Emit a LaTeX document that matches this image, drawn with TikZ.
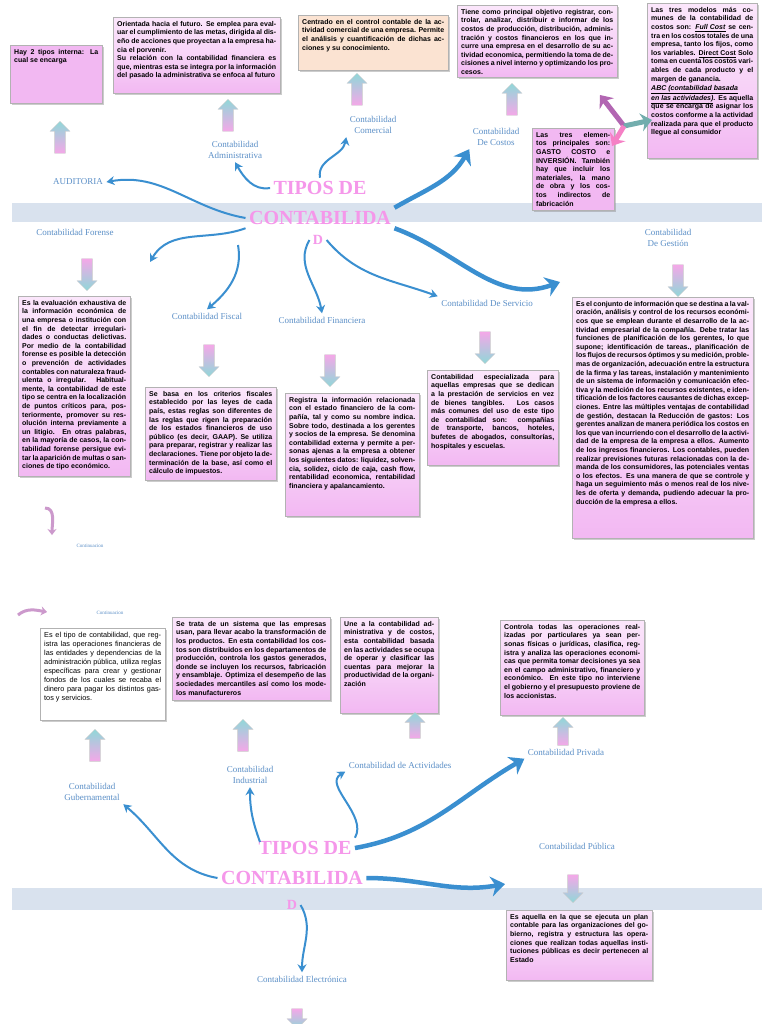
\documentclass[tikz,border=0pt]{standalone}
\usepackage{fontspec}
\setmainfont{Liberation Serif}
\newfontfamily\boxff{Liberation Sans}
\usetikzlibrary{shapes.arrows,shadows,arrows.meta}
\definecolor{lblue}{HTML}{5B8FC7}
\definecolor{abl}{HTML}{3A8FD0}
\definecolor{band}{HTML}{D9E2EE}
\definecolor{pk}{HTML}{F2B8F2}
\definecolor{pkl}{HTML}{FBE6FB}
\definecolor{peach}{HTML}{FBE3D2}
\definecolor{tl}{HTML}{8FD8D8}
\definecolor{tpink}{HTML}{F4A8E8}
\newcommand\bx[3]{\parbox[t][#2pt][t]{#1pt}{#3}}
\tikzset{
 x=1pt,y=-1pt,
 box/.style={anchor=north west, draw=gray!60, top color=pkl, bottom color=pk, middle color=pkl!60!pk, drop shadow={opacity=0.4,shadow xshift=2pt,shadow yshift=-2pt}, inner sep=4pt, font=\boxff\bfseries\fontsize{7}{8.6}\selectfont},
 lbl/.style={font=\fontsize{9}{11}\selectfont, text=lblue, align=center},
 uparr/.style={shape=single arrow, shape border rotate=90, minimum height=32pt, minimum width=20pt, single arrow head extend=3pt, top color=tl, bottom color=tpink, draw=gray!40},
 dnarr/.style={shape=single arrow, shape border rotate=270, minimum height=32pt, minimum width=20pt, single arrow head extend=3pt, top color=tpink, bottom color=tl, draw=gray!40},
 bl/.style={draw=abl, line width=2pt, -{Stealth[length=8pt,width=9pt]}},
 blt/.style={draw=abl, line width=4.5pt, -{Stealth[length=14pt,width=20pt]}},
 ttl/.style={font=\bfseries\fontsize{20}{24}\selectfont, text=tpink!90!magenta},
}
\begin{document}
\begin{tikzpicture}
\useasboundingbox[fill=white] (0,0) rectangle (768,1024);
\fill[band] (12,203) rectangle (762,222);
\fill[band] (12,888) rectangle (762,910);
\node[ttl] (t1) at (320,188) {TIPOS DE};
\node[ttl] (t2) at (320,218) {CONTABILIDA};
\node[ttl,font=\bfseries\fontsize{14}{16}\selectfont] (t3) at (318,240) {D};
\node[ttl] (b1) at (305,848) {TIPOS DE};
\node[ttl] (b2) at (292,878) {CONTABILIDA};
\node[ttl,font=\bfseries\fontsize{14}{16}\selectfont] (b3) at (292,905) {D};

% ---------- top boxes
\node[box,top color=pk,bottom color=pk] (bAud) at (10,45) {\bx{84}{50}{Hay 2 tipos interna: La cual se encarga}};
\node[box] (bAdm) at (113,17) {\bx{159}{68}{Orientada hacia el futuro. Se emplea para evaluar el cumplimiento de las metas, dirigida al diseño de acciones que proyectan a la empresa hacia el porvenir.\\ Su relación con la contabilidad financiera es que, mientras esta se integra por la información del pasado la administrativa se enfoca al futuro}};
\node[box,top color=peach,bottom color=peach,middle color=peach] (bCom) at (298,15) {\bx{142}{47}{Centrado en el control contable de la actividad comercial de una empresa. Permite el análisis y cuantificación de dichas acciones y su conocimiento.}};
\node[box] (bCos) at (457,5) {\bx{152}{64}{Tiene como principal objetivo registrar, controlar, analizar, distribuir e informar de los costos de producción, distribución, administración y costos financieros en los que incurre una empresa en el desarrollo de su actividad economica, permitiendo la toma de decisiones a nivel interno y optimizando los procesos.}};
\node[box] (bAbc) at (647,3) {\bx{102}{147}{Las tres modelos más comunes de la contabilidad de costos son: \underline{\textit{Full Cost}} se centra en los costos totales de una empresa, tanto los fijos, como los variables. \underline{Direct Cost} Solo toma en cuenta los costos variables de cada producto y el margen de ganancia.\\[1pt] \underline{\textit{ABC (contabilidad basada}}\\[1pt] \underline{\textit{en las actividades)}}. Es aquella que se encarga de asignar los costos conforme a la actividad realizada para que el producto llegue al consumidor}};
\node[box,top color=pk,bottom color=pk] (bEle) at (532,128) {\bx{74}{74}{Las tres elementos principales son: GASTO COSTO e INVERSIÓN. También hay que incluir los materiales, la mano de obra y los costos indirectos de fabricación}};
\coordinate (cx) at (624,126);
\draw[draw=violet!60,line width=5pt,-{Stealth[length=11pt,width=18pt]}] (cx) -- (600,95);
\draw[draw=tl!80!black,line width=5pt,-{Stealth[length=11pt,width=18pt]}] (cx) -- (652,120);
\draw[draw=magenta!50,line width=5pt,-{Stealth[length=11pt,width=18pt]}] (cx) -- (612,146);

% ---------- top labels
\node[lbl] (lAud) at (78,182) {AUDITORIA};
\node[lbl] (lAdm) at (235,150) {Contabilidad\\Administrativa};
\node[lbl] (lCom) at (373,125) {Contabilidad\\Comercial};
\node[lbl] (lCos) at (496,137) {Contabilidad\\De Costos};
\node[lbl] (lFor) at (75,232) {Contabilidad Forense};
\node[lbl] (lGes) at (668,238) {Contabilidad\\De Gestión};
\node[lbl] (lFis) at (207,316) {Contabilidad Fiscal};
\node[lbl] (lFin) at (322,320) {Contabilidad Financiera};
\node[lbl] (lSer) at (487,303) {Contabilidad De Servicio};

\node[uparr] (aAud) at (60,140) {};
\node[uparr] (aAdm) at (228,118) {};
\node[uparr] (aCom) at (357,92) {};
\node[uparr] (aCos) at (512,102) {};
\node[dnarr] (aFor) at (87,272) {};
\node[dnarr] (aGes) at (678,278) {};
\node[dnarr] (aFis) at (209,358) {};
\node[dnarr] (aFin) at (330,368) {};
\node[dnarr] (aSer) at (485,345) {};

% mid boxes
\node[box] (bFor) at (18,296) {\bx{104}{172}{Es la evaluación exhaustiva de la información económica de una empresa o institución con el fin de detectar irregularidades o conductas delictivas. Por medio de la contabilidad forense es posible la detección o prevención de actividades contables con naturaleza fraudulenta o irregular. Habitualmente, la contabilidad de este tipo se centra en la localización de puntos críticos para, posteriormente, promover su resolución interna previamente a un litigio. En otras palabras, en la mayoría de casos, la contabilidad forense persigue evitar la aparición de multas o sanciones de tipo económico.}};
\node[box] (bFis) at (145,387) {\bx{123}{85}{Se basa en los criterios fiscales establecido por las leyes de cada país, estas reglas son diferentes de las reglas que rigen la preparación de los estados financieros de uso público (es decir, GAAP). Se utiliza para preparar, registrar y realizar las declaraciones. Tiene por objeto la determinación de la base, así como el cálculo de impuestos.}};
\node[box] (bFin) at (285,393) {\bx{126}{115}{Registra la información relacionada con el estado financiero de la compañía, tal y como su nombre indica. Sobre todo, destinada a los gerentes y socios de la empresa. Se denomina contabilidad externa y permite a personas ajenas a la empresa a obtener los siguientes datos: liquidez, solvencia, solidez, ciclo de caja, cash flow, rentabilidad economica, rentabilidad financiera y apalancamiento.}};
\node[box] (bSer) at (427,370) {\bx{123}{87}{Contabilidad especializada para aquellas empresas que se dedican a la prestación de servicios en vez de bienes tangibles. Los casos más comunes del uso de este tipo de contabilidad son: compañías de transporte, bancos, hoteles, bufetes de abogados, consultorías, hospitales y escuelas.}};
\node[box] (bGes) at (572,297) {\bx{173}{233}{Es el conjunto de información que se destina a la valoración, análisis y control de los recursos económicos que se emplean durante el desarrollo de la actividad empresarial de la compañía. Debe tratar las funciones de planificación de los gerentes, lo que supone; identificación de tareas., planificación de los flujos de recursos óptimos y su medición, problemas de organización, adecuación entre la estructura de la firma y las tareas, instalación y mantenimiento de un sistema de información y comunicación efectiva y la medición de los recursos existentes, e identificación de los factores causantes de dichas excepciones. Entre las múltiples ventajas de contabilidad de gestión, destacan la Reducción de gastos: Los gerentes analizan de manera periódica los costos en los que van incurriendo con el desarrollo de la actividad de la empresa de la empresa a ellos. Aumento de los ingresos financieros. Los contables, pueden realizar previsiones futuras relacionadas con la demanda de los consumidores, las potenciales ventas o los efectos. Es una manera de que se controle y haga un seguimiento más o menos real de los niveles de oferta y demanda, pudiendo adecuar la producción de la empresa a ellos.}};

\draw[bl] (t2.west) to[out=170,in=10] (lAud.east);
\draw[bl] (t1.west) to[out=190,in=-60] (lAdm.south);
\draw[bl] (t1.north) to[out=100,in=-100] (lCom.south west);
\draw[blt] (t2.north east) to[out=30,in=-120] (lCos.south west);
\draw[bl] (t2.south west) to[out=200,in=60] (150,262);
\draw[bl] (238,245) to[out=-80,in=40] (lFis.north);
\draw[bl] (t3.west) to[out=240,in=100] (lFin.north);
\draw[bl] (t3.east) to[out=-50,in=160] (lSer.north west);
\draw[blt] (t2.south east) to[out=-20,in=200] (560,282);

\node[font=\fontsize{5}{6}\selectfont,text=lblue] (cont1) at (90,546) {Continuacion};
\node[font=\fontsize{5}{6}\selectfont,text=lblue] (cont2) at (110,613) {Continuacion};
\draw[draw=violet!40,line width=3pt,-{Stealth[length=6pt,width=9pt]}] (45,508) to[out=0,in=90] (52,535);
\draw[draw=violet!40,line width=3pt,-{Stealth[length=6pt,width=9pt]}] (18,615) to[out=40,in=170] (47,612);

% ---------- bottom boxes
\node[box,top color=white,bottom color=white,middle color=white,font=\boxff\fontsize{7.3}{9}\selectfont] (bGub) at (40,628) {\bx{117}{84}{Es el tipo de contabilidad, que registra las operaciones financieras de las entidades y dependencias de la administración pública, utiliza reglas específicas para crear y gestionar fondos de los cuales se recaba el dinero para pagar los distintos gastos y servicios.}};
\node[box] (bInd) at (172,617) {\bx{150}{75}{Se trata de un sistema que las empresas usan, para llevar acabo la transformación de los productos. En esta contabilidad los costos son distribuidos en los departamentos de producción, controla los gastos generados, donde se incluyen los recursos, fabricación y ensamblaje. Optimiza el desempeño de las sociedades mercantiles así como los modelos manufactureros}};
\node[box] (bAct) at (340,617) {\bx{90}{88}{Une a la contabilidad administrativa y de costos, esta contabilidad basada en las actividades se ocupa de operar y clasificar las cuentas para mejorar la productividad de la organización}};
\node[box] (bPri) at (500,620) {\bx{136}{87}{Controla todas las operaciones realizadas por particulares ya sean personas físicas o jurídicas, clasifica, registra y analiza las operaciones economicas que permita tomar decisiones ya sea en el campo administrativo, financiero y económico. En este tipo no interviene el gobierno y el presupuesto proviene de los accionistas.}};
\node[box] (bPub) at (506,910) {\bx{138}{62}{Es aquella en la que se ejecuta un plan contable para las organizaciones del gobierno, registra y estructura las operaciones que realizan todas aquellas instituciones públicas es decir pertenecen al Estado}};

\node[lbl] (lGub) at (92,792) {Contabilidad\\Gubernamental};
\node[lbl] (lInd) at (250,775) {Contabilidad\\Industrial};
\node[lbl] (lAct) at (400,765) {Contabilidad de Actividades};
\node[lbl] (lPri) at (566,752) {Contabilidad Privada};
\node[lbl] (lPub) at (577,846) {Contabilidad Pública};
\node[lbl] (lEle) at (302,979) {Contabilidad Electrónica};

\node[uparr] (aGub) at (95,748) {};
\node[uparr] (aInd) at (243,738) {};
\node[uparr,minimum height=26pt] (aAct) at (415,728) {};
\node[uparr,minimum height=28pt] (aPri) at (563,734) {};
\node[dnarr,minimum height=28pt] (aPub) at (573,886) {};
\node[dnarr,minimum height=20pt] (aEle) at (297,1016) {};

\draw[bl] (b2.west) to[out=170,in=-40] (lGub.south east);
\draw[bl] (260,842) to[out=110,in=-90] (lInd.south);
\draw[bl] (b1.north east) to[out=60,in=210] (lAct.south west);
\draw[blt] (b1.east) to[out=10,in=210] (lPri.south west);
\draw[blt] (b2.east) to[out=0,in=190] (505,884);
\draw[bl] (b3.east) to[out=-60,in=90] (lEle.north);
\end{tikzpicture}
\end{document}
